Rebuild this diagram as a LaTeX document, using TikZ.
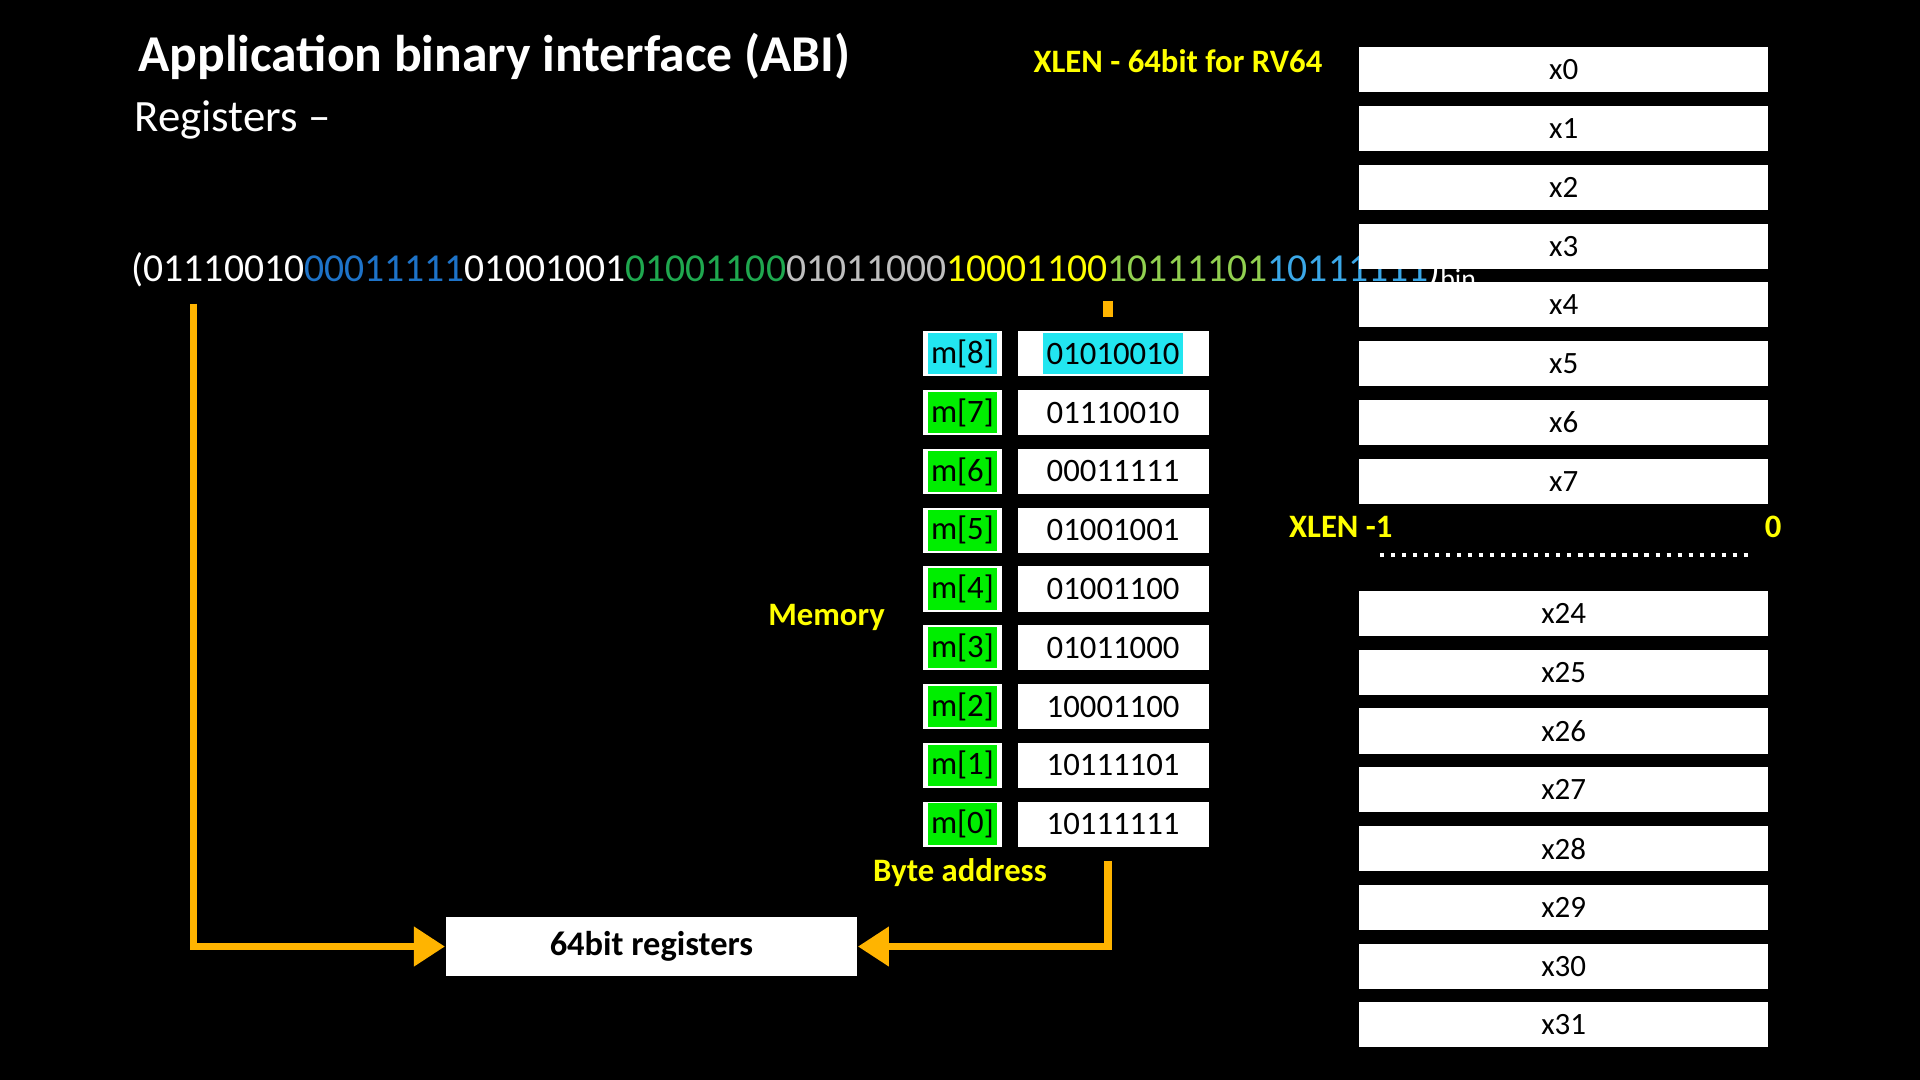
\documentclass[tikz,border=0pt]{standalone}
\usepackage{fontspec}
\setmainfont{Carlito}
\usetikzlibrary{arrows.meta}
\definecolor{ylw}{HTML}{FFFF00}
\definecolor{org}{HTML}{FFB400}
\definecolor{sblue}{HTML}{1E73C8}
\definecolor{sgreen}{HTML}{1FA84F}
\definecolor{sgray}{HTML}{BFBFBF}
\definecolor{slgreen}{HTML}{92D050}
\definecolor{slblue}{HTML}{3BA8E8}
\definecolor{mgreen}{HTML}{00EE00}
\definecolor{mcyan}{HTML}{22E6F0}
\begin{document}
\begin{tikzpicture}[x=0.0125cm,y=-0.0125cm,
  reg/.style={draw=none,fill=white,minimum width=4.18cm,minimum height=0.46cm,inner sep=0,font=\fontsize{9}{10}\selectfont},
  lab/.style={fill=white,minimum width=0.8cm,minimum height=0.46cm,inner sep=0},
  val/.style={fill=white,minimum width=1.95cm,minimum height=0.46cm,inner sep=0,font=\fontsize{9.5}{10}\selectfont},
  ytxt/.style={text=ylw,font=\bfseries\fontsize{9.5}{11}\selectfont},
  arr/.style={org,line width=2.2pt,-{Triangle[length=9pt,width=11pt]}}]
\fill[black] (0,0) rectangle (1568,882);
\useasboundingbox (0,0) rectangle (1568,882);
\node[anchor=west,text=white,font=\bfseries\fontsize{15}{17}\selectfont] (title) at (103,46) {Application binary interface (ABI)};
\node[anchor=west,text=white,font=\fontsize{13}{15}\selectfont] (sub) at (100,98) {Registers –};
\node[ytxt] (xlen) at (962,50) {XLEN - 64bit for RV64};
% binary string
\node[anchor=west,font=\fontsize{11.5}{13}\selectfont,inner sep=0] (bin) at (107,221) {\textcolor{white}{(01110010}\textcolor{sblue}{00011111}\textcolor{white}{01001001}\textcolor{sgreen}{01001100}\textcolor{sgray}{01011000}\textcolor{ylw}{10001100}\textcolor{slgreen}{10111101}\textcolor{slblue}{10111111}\textcolor{white}{)$_{\mathrm{bin}}$}};
% registers
\foreach \i in {0,...,7}{\node[reg] (x\i) at (1277,57+48*\i) {x\i};}
\foreach \i [count=\k from 0] in {24,...,31}{\node[reg] (x\i) at (1277,501+48*\k) {x\i};}
\node[ytxt] (xl) at (1095,430) {XLEN -1};
\node[ytxt] (xz) at (1448,430) {0};
\coordinate (da) at (1127,453);
\coordinate (db) at (1428,453);
\draw[white,line width=1.2pt,dotted] (da) -- (db);
% memory
\foreach \i/\v [count=\k from 0] in {8/01010010,7/01110010,6/00011111,5/01001001,4/01001100,3/01011000,2/10001100,1/10111101,0/10111111}{
  \node[lab] (mb\i) at (786,289+48*\k) {};
  \ifnum\i=8 \def\mc{mcyan}\else\def\mc{mgreen}\fi
  \node[fill=\mc,minimum width=0.7cm,minimum height=0.42cm,inner sep=0,font=\fontsize{9.5}{10}\selectfont] (m\i) at (mb\i) {m[\i]};
  \node[val] (v\i) at (909,289+48*\k) {};
  \ifnum\i=8
    \node[fill=mcyan,inner sep=1pt,minimum height=0.42cm,font=\fontsize{9.5}{10}\selectfont] (t\i) at (v\i) {\v};
  \else
    \node[inner sep=0,font=\fontsize{9.5}{10}\selectfont] (t\i) at (v\i) {\v};
  \fi
}
\node[ytxt] (mem) at (675,504) {Memory};
\node[ytxt] (ba) at (784,713) {Byte address};
\coordinate (mk1) at (905,246);
\coordinate (mk2) at (905,259);
\draw[org,line width=3pt] (mk1) -- (mk2);
% 64bit registers
\node[fill=white,minimum width=4.2cm,minimum height=0.6cm,inner sep=0,font=\bfseries\fontsize{10}{12}\selectfont] (r64) at (532,773) {64bit registers};
\coordinate (la) at (158,248);
\coordinate (ra) at (905,703);
\draw[arr] (la) |- (r64.west);
\draw[arr] (ra) |- (r64.east);
\end{tikzpicture}
\end{document}
